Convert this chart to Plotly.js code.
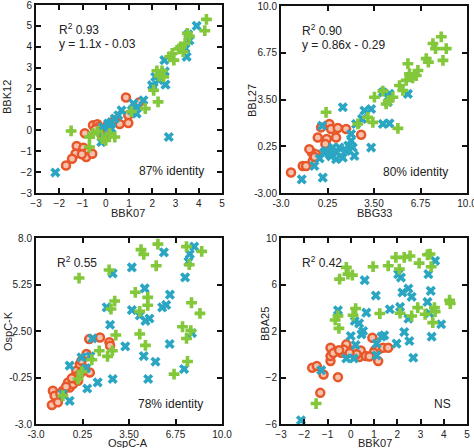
<!DOCTYPE html>
<html><head><meta charset="utf-8">
<script src="https://cdn.plot.ly/plotly-3.0.1.min.js"></script>
<style>html,body{margin:0;padding:0;background:#fff}#c{width:474px;height:448px}</style>
</head><body><div id="c"></div>
<script>
// ---- Panel 1: BBK07 vs BBK12 ----
const p1RedX = [0.87,1.45,0.97,0.97,0.39,-0.55,-0.36,-0.3,-0.22,-0.12,-0.9,-1.25,-1.3,-1.45,-1.71,-0.96,-0.91,-0.77,-0.84,-0.58,-1.03,0.09,0.6,-0.45];
const p1RedY = [1.57,1.35,0.72,0.35,0.48,0.24,0.29,0.16,-0.13,-0.24,-0.14,-0.75,-1.12,-1.36,-1.68,-0.83,-1.12,-1.04,-1.28,-1.12,-1.15,0.27,0.3,0.05];
const p1CyanX = [-2.17,3.91,3.55,3.43,3.48,2.52,2.54,2.13,1.99,2.06,2.28,2.57,2.71,1.62,1.38,1.19,1.12,1.33,0.68,0.54,0.39,0.25,0.1,-0.12,0.14,0.25,-0.19,-0.12,3.6,3.3];
const p1CyanY = [-2.02,5.0,4.6,3.92,3.52,3.36,2.82,2.56,2.16,2.05,2.4,2.19,-0.32,1.44,1.12,1.28,0.96,0.8,0.96,0.72,0.56,0.4,0.32,0.16,0.24,0.08,-0.56,-0.27,4.3,3.9];
const p1GreenX = [4.33,4.26,3.51,3.41,3.22,3.33,2.86,2.75,2.93,2.2,2.42,2.49,2.06,2.25,1.7,-1.49,-0.7,-0.55,-0.14,0,0.39,0.17,-0.7,3.6,3.15,2.3,1.1,-0.35];
const p1GreenY = [5.31,4.77,4.64,4.16,4.0,3.76,3.68,3.52,3.36,2.85,2.85,2.56,1.92,1.36,1.04,-0.03,-0.32,-0.16,-0.4,-0.48,-0.32,-0.16,-0.8,4.5,3.9,2.6,0.9,-0.05];

// ---- Panel 2: BBG33 vs BBL27 ----
const p2RedX = [-2.3,-1.48,-1.25,-0.78,-0.83,-0.55,-0.43,-0.2,0.38,0.5,0.85,0.2,0.1,0.97,1.55,2.6,-1.02,-0.65];
const p2RedY = [-1.58,-1.12,-1.12,-0.77,-0.19,-0.3,0.86,1.56,1.8,1.45,0.86,0.75,0.4,1.52,1.45,1.05,0.05,-0.5];
const p2CyanX = [-1.55,-0.08,-0.13,1.32,2.83,3.3,2.67,2.25,1.9,1.9,2.02,2.13,0.85,1.32,1.55,0.38,0.15,0.62,1.08,-0.67,3.3,4.12,4.58,4.12,4.58,4.47,5.87,0.0,0.5,1.7,-0.3,0.9];
const p2CyanY = [-2.05,-1.93,1.68,2.96,2.73,2.84,2.15,1.8,1.1,0.63,0.16,-0.42,-0.65,-0.54,-0.07,-0.3,-0.07,0.16,0.16,-1.12,0.16,1.8,1.84,4.0,3.89,3.31,3.89,-0.2,-0.45,0.3,-0.6,-0.2];
const p2GreenX = [8.2,7.62,7.8,8.55,8.32,7.15,5.87,5.98,6.57,6.45,5.75,5.28,5.52,4.12,3.53,4.35,4.82,5.17,3.42,3.07,2.37,0.15,7.3,6.2,4.5];
const p2GreenY = [7.86,7.39,7.04,7.04,6.22,6.34,5.99,5.29,5.52,5.17,4.83,4.47,4.13,4.08,3.66,3.19,3.66,1.49,1.91,2.26,1.8,2.61,6.1,5.0,3.4];

// ---- Panel 3: OspC-A vs OspC-K ----
const p3RedX = [-1.89,-1.82,-1.7,-1.47,-1.12,-0.76,-0.65,-0.41,-0.06,-0.18,0.06,0.18,0.53,0.72,1.47,2.13,2.18,0.76,-0.3,-1.3,-0.9,0.4,0.1,-0.5];
const p3RedY = [-1.88,-1.03,-1.33,-1.72,-1.03,-0.54,-0.84,-0.64,-0.44,0.15,0.54,0.74,1.14,2.02,2.12,1.83,1.63,0.05,-0.2,-1.2,-0.8,0.3,0.0,-0.3];
const p3CyanX = [-0.65,0.18,0.95,0.58,1.31,2.36,2.18,1.94,2.36,3.7,3.7,3.24,4.53,4.25,4.65,4.93,4.6,5.94,5.35,4.84,5.82,6.1,6.36,6.34,7.42,7.35,7.66,7.75,8.06,7.9,-1.12,-0.65,0.8,0.5];
const p3CyanY = [0.45,0.94,2.06,-0.9,-0.54,-0.34,2.87,3.9,5.91,6.26,3.74,1.59,1.02,3.42,3.1,3.24,5.02,7.15,0.68,-0.34,3.9,4.04,4.65,1.73,5.67,0.25,6.6,7.05,7.49,2.38,-1.23,-1.63,1.0,0.3];
const p3GreenX = [0.01,2.11,2.5,2.24,2.58,2.34,1.42,3.94,4.25,4.34,4.53,4.81,4.81,4.25,4.65,5.4,5.52,6.65,7.24,7.52,7.59,7.52,7.71,7.87,8.46,8.58,7.82,-1.12,-0.06,0.9,2.0,0.2];
const p3GreenY = [5.63,6.11,4.27,3.8,2.26,1.33,1.33,4.79,3.66,7.31,7.03,4.02,4.49,2.32,1.65,6.36,7.64,-0.05,2.75,2.06,0.7,7.49,6.42,4.17,3.54,7.21,2.52,-1.33,-0.34,0.8,1.0,0.1];

// ---- Panel 4: BBK07 vs BBA25 ----
const p4RedX = [-1.31,-1.66,-1.46,-1.17,-0.55,-0.87,-0.87,-0.87,-0.62,-0.41,-0.19,0.03,0.17,0.43,0.36,0.65,0.93,1.03,1.18,1.21,1.39,1.61,0.99,-0.19,-0.3,-0.75,-0.5,0.25,0.8,-0.05];
const p4RedY = [-3.32,-1.17,-1.02,-1.74,-1.97,-0.59,-0.16,0.56,0.27,0.13,0.56,0.33,0.33,0.33,-0.24,-0.16,1.42,0.33,-0.59,0.42,0.56,0.56,0.13,0.85,0.4,0.1,0.35,0.0,-0.2,0.1];
const p4CyanX = [-2.14,-1.27,-0.55,0.0,0.17,0.36,0.46,0.53,-0.19,0.13,0.21,0.6,0.67,1.08,1.11,1.32,1.44,1.68,1.11,1.97,2.12,2.04,2.16,2.22,2.3,2.48,2.48,2.52,2.62,2.69,3.3,3.34,3.38,3.44,3.48,3.63,3.89];
const p4CyanY = [-5.68,-1.37,3.78,1.57,2.86,2.66,1.71,2.0,-0.36,-0.36,0.79,6.37,3.58,5.05,0.91,1.51,1.63,3.87,-0.1,0.91,4.07,6.89,6.6,5.31,1.91,5.65,3.06,1.14,4.94,-0.3,4.5,6.89,3.53,5.45,1.51,8.04,2.58];
const p4GreenX = [-1.49,-0.67,-0.55,-0.51,-0.19,-0.12,0.07,-0.48,0.1,0.21,0.96,1.25,1.61,1.94,2.09,2.12,2.3,2.55,2.62,2.88,2.94,3.2,3.3,3.41,3.46,3.6,3.63,3.53,4.25,4.28];
const p4GreenY = [-4.24,2.95,3.3,2.23,7.47,6.89,6.81,6.46,3.35,3.93,7.53,3.5,7.61,8.33,7.32,3.53,8.33,8.45,3.29,4.01,7.84,3.44,8.56,8.62,7.53,4.01,3.67,2.72,4.65,4.36];

// ---- Axis ticks ----
const tickInt = [-3,-2,-1,0,1,2,3,4,5];
const p1YTicks = [-3,-2,-1,0,1,2,3,4,5,6];
const p2Ticks = [-3,0.25,3.5,6.75,10];
const p2XLabels = ["-3.0","0.25","3.50","6.75","10.0"];
const p2YLabels = ["-3.00","0.25","3.50","6.75","10.0"];
const p3YTicks = [-3,-0.25,2.5,5.25,8];
const p3YLabels = ["-3.0","-0.25","2.50","5.25","8.0"];
const p4YTicks = [-6,-2,2,6,10];

const xTitles = ["BBK07","BBG33","OspC-A","BBK07"];
const yTitles = ["BBK12","BBL27","OspC-K","BBA25"];
const r2 = ["0.93","0.90","0.55","0.42"];
const fits = ["y = 1.1x - 0.03","y = 0.86x - 0.29","",""];
const identity = ["87% identity","80% identity","78% identity","NS"];

const RED = '#e8572a', CYAN = '#2ba6c2', GREEN = '#82c83a';
const series = [
  [p1RedX,p1RedY,p1CyanX,p1CyanY,p1GreenX,p1GreenY],
  [p2RedX,p2RedY,p2CyanX,p2CyanY,p2GreenX,p2GreenY],
  [p3RedX,p3RedY,p3CyanX,p3CyanY,p3GreenX,p3GreenY],
  [p4RedX,p4RedY,p4CyanX,p4CyanY,p4GreenX,p4GreenY]
];
const traces = [];
series.forEach((s,i)=>{
  const xa = i===0?'x':'x'+(i+1), ya = i===0?'y':'y'+(i+1);
  traces.push({x:s[0],y:s[1],xaxis:xa,yaxis:ya,type:'scatter',mode:'markers',
    marker:{symbol:'circle',size:8,color:'#f6c2ae',line:{color:RED,width:2.5}},hoverinfo:'skip'});
  traces.push({x:s[2],y:s[3],xaxis:xa,yaxis:ya,type:'scatter',mode:'markers',
    marker:{symbol:'x',size:9,color:CYAN,line:{width:0}},hoverinfo:'skip'});
  traces.push({x:s[4],y:s[5],xaxis:xa,yaxis:ya,type:'scatter',mode:'markers',
    marker:{symbol:'cross',size:9,color:GREEN,line:{width:0}},hoverinfo:'skip'});
});

const W=474,H=448;
const boxes = [[36,222,5,193],[281,467,6,193],[36,222,238,424],[281,467,238,424]];
// axis title centres in pixels: [xTitleX, xTitleY, yTitleX, yTitleY]
const titlePos = [[128,213,7,97],[374,213,252,100],[128,443,8,331],[375,443,265,324]];
const ann = [ // [r2x, r2y, fity, idx, idy] in axis-domain fractions
  [0.113,0.872,0.795,0.914,0.117],
  [0.102,0.872,0.794,0.909,0.112],
  [0.102,0.871,0,0.909,0.108],
  [0.102,0.871,0,0.925,0.108]
];
const FAM = '"Liberation Sans", Arial, Helvetica, sans-serif';
const font = {family:FAM, size:11, color:'#222'};
function ax(dom, extra){
  return Object.assign({domain:dom, showgrid:false, zeroline:false, showline:true, linecolor:'#111', linewidth:2,
    mirror:'ticks', ticks:'inside', ticklen:5, tickwidth:2, tickcolor:'#111', tickfont:{family:FAM,size:10,color:'#222'},
    ticklabeloverflow:'allow', fixedrange:true}, extra);
}
const layout = {width:W,height:H,margin:{l:0,r:0,t:0,b:0},paper_bgcolor:'#fff',plot_bgcolor:'#fff',
  showlegend:false,font:font,annotations:[]};
const xcfg = [
  {range:[-3,5],tickvals:tickInt},
  {range:[-3,10],tickvals:p2Ticks,ticktext:p2XLabels},
  {range:[-3,10],tickvals:p2Ticks,ticktext:p2XLabels},
  {range:[-3,5],tickvals:tickInt}
];
const ycfg = [
  {range:[-3,6],tickvals:p1YTicks},
  {range:[-3,10],tickvals:p2Ticks,ticktext:p2YLabels},
  {range:[-3,8],tickvals:p3YTicks,ticktext:p3YLabels},
  {range:[-6,10],tickvals:p4YTicks}
];
const TF = {family:FAM,size:11,color:'#222'};
const AF = {family:FAM,size:12,color:'#222'};
boxes.forEach((b,i)=>{
  const k = i===0?'':(i+1);
  const xa = 'x'+k, ya='y'+k;
  layout['xaxis'+k] = ax([b[0]/W,b[1]/W], Object.assign({anchor:ya}, xcfg[i]));
  layout['yaxis'+k] = ax([1-b[3]/H,1-b[2]/H], Object.assign({anchor:xa}, ycfg[i]));
  const tp = titlePos[i];
  layout.annotations.push({xref:'paper',yref:'paper',x:tp[0]/W,y:1-tp[1]/H,xanchor:'center',yanchor:'middle',
    showarrow:false,text:xTitles[i],font:TF});
  layout.annotations.push({xref:'paper',yref:'paper',x:tp[2]/W,y:1-tp[3]/H,xanchor:'center',yanchor:'middle',
    showarrow:false,textangle:-90,text:yTitles[i],font:TF});
  const xd = xa+' domain', yd = ya+' domain', a = ann[i];
  layout.annotations.push({xref:xd,yref:yd,x:a[0],y:a[1],xanchor:'left',yanchor:'middle',showarrow:false,
    text:'R<sup>2</sup> '+r2[i],font:AF});
  if(fits[i]) layout.annotations.push({xref:xd,yref:yd,x:a[0],y:a[2],xanchor:'left',yanchor:'middle',showarrow:false,
    text:fits[i],font:AF});
  layout.annotations.push({xref:xd,yref:yd,x:a[3],y:a[4],xanchor:'right',yanchor:'middle',showarrow:false,
    text:identity[i],font:AF});
});
Plotly.newPlot('c',traces,layout,{staticPlot:true,displayModeBar:false});
</script></body></html>
